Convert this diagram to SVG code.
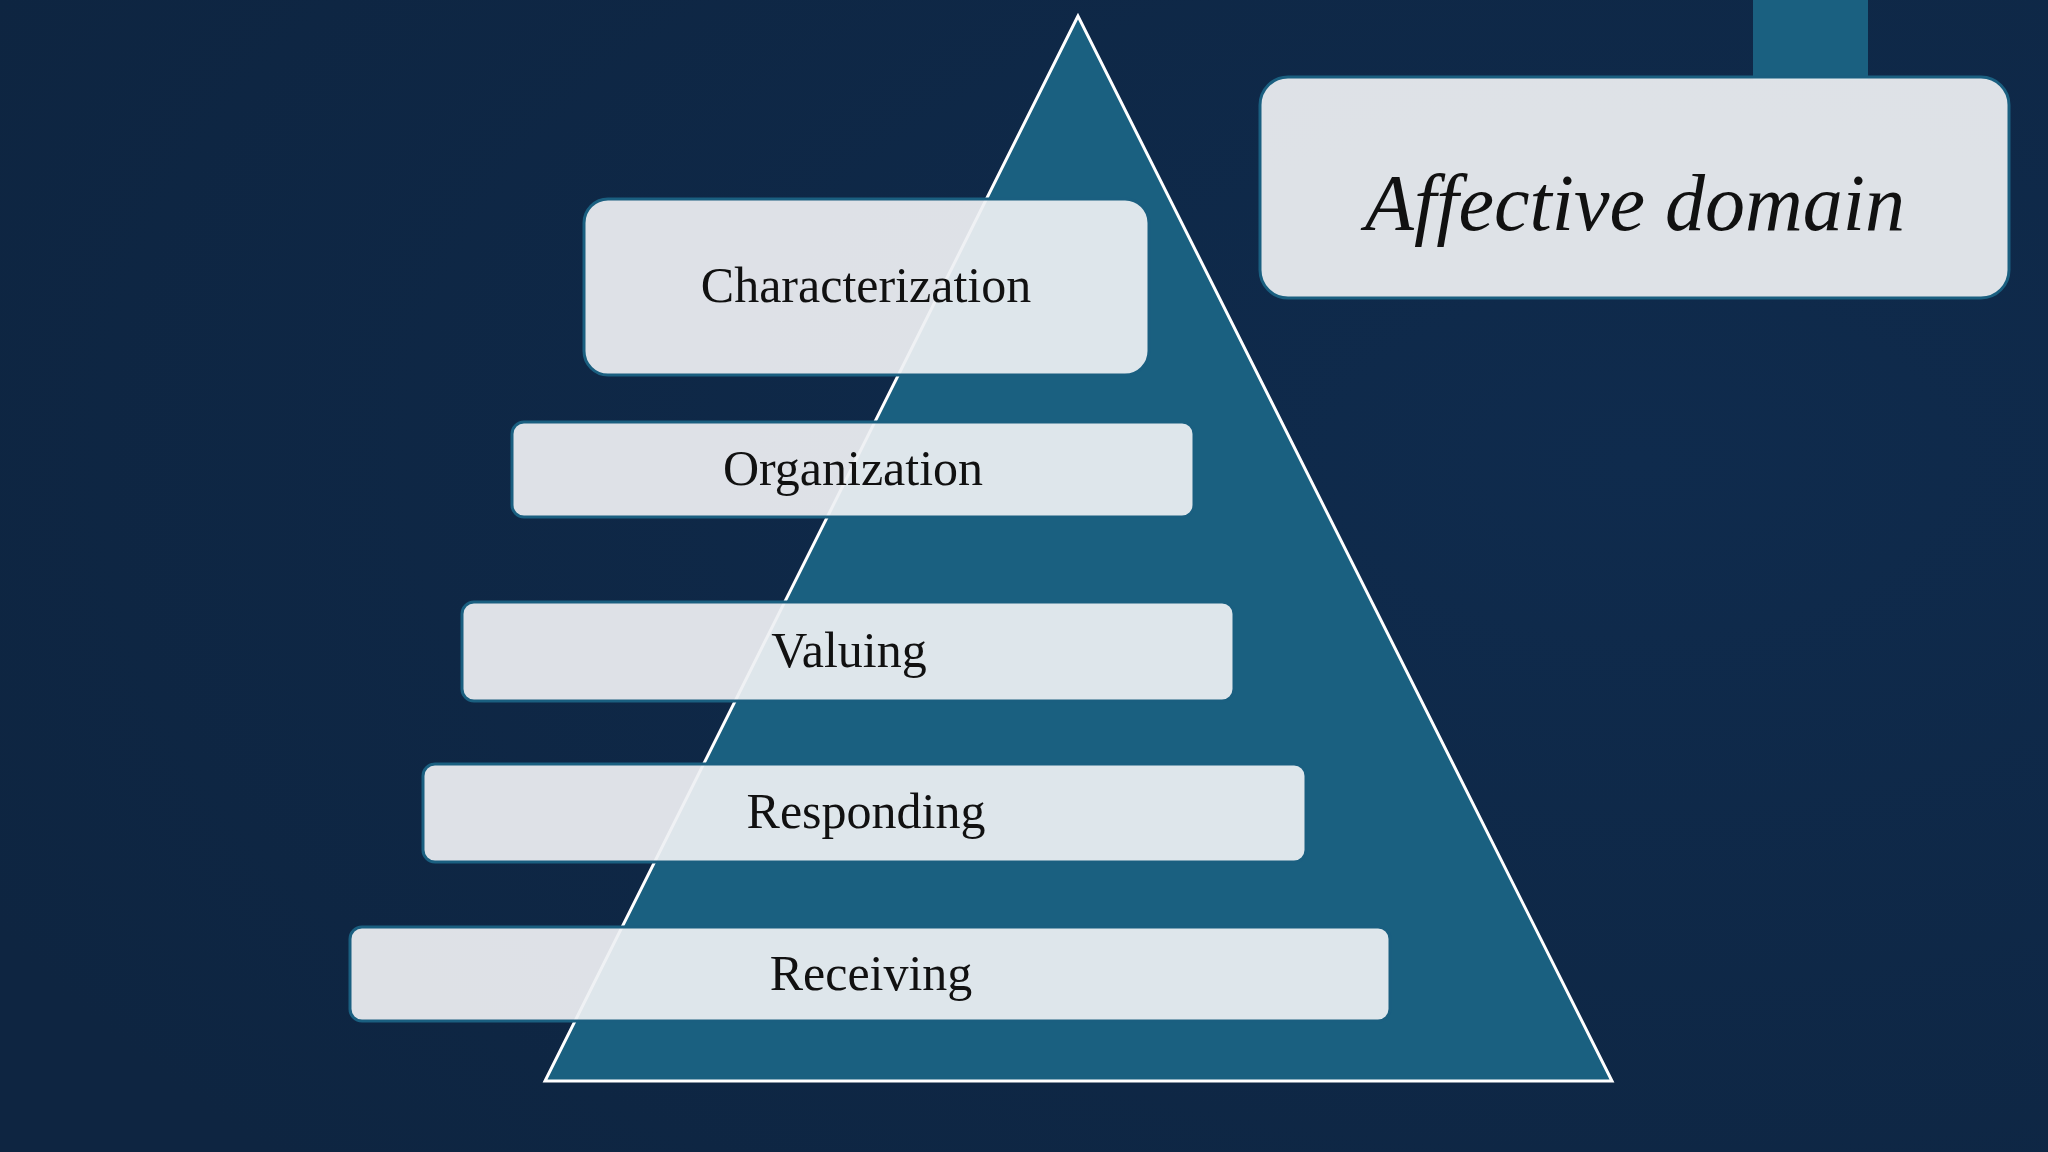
<svg xmlns="http://www.w3.org/2000/svg" width="2048" height="1152" viewBox="0 0 2048 1152">
<defs>
<style>
.box{fill:#eef0f3;fill-opacity:0.93;stroke:#1a5f80;stroke-width:3}
.lbl{font-family:"Liberation Serif",serif;font-size:50px;fill:#111;text-anchor:middle}
</style>
<radialGradient id="bg" cx="0.8" cy="0.4" r="0.9">
<stop offset="0" stop-color="#0f2b4d"/><stop offset="1" stop-color="#0e2541"/>
</radialGradient>
</defs>
<rect width="2048" height="1152" fill="url(#bg)"/>
<rect x="1753" y="0" width="115" height="80" fill="#1a6080"/>
<polygon id="pyramid" points="1078,16 545,1081 1612,1081" fill="#1a6080" stroke="#ffffff" stroke-width="3"/>
<g id="connectors"></g>
<g id="characterization"><rect class="box" x="584" y="199" width="565" height="176" rx="24"/><text class="lbl" x="866" y="302">Characterization</text></g>
<g id="organization"><rect class="box" x="512" y="422" width="682" height="95" rx="12"/><text class="lbl" x="853" y="485">Organization</text></g>
<g id="valuing"><rect class="box" x="462" y="602" width="772" height="99" rx="12"/><text class="lbl" x="849" y="667">Valuing</text></g>
<g id="responding"><rect class="box" x="423" y="764" width="883" height="98" rx="12"/><text class="lbl" x="866" y="828">Responding</text></g>
<g id="receiving"><rect class="box" x="350" y="927" width="1040" height="94" rx="12"/><text class="lbl" x="871" y="990">Receiving</text></g>
<g id="title"><rect class="box" x="1260" y="77" width="749" height="221" rx="28"/><text x="1635" y="230" font-family="Liberation Serif,serif" font-style="italic" font-size="80" fill="#111" text-anchor="middle">Affective domain</text></g>
</svg>
